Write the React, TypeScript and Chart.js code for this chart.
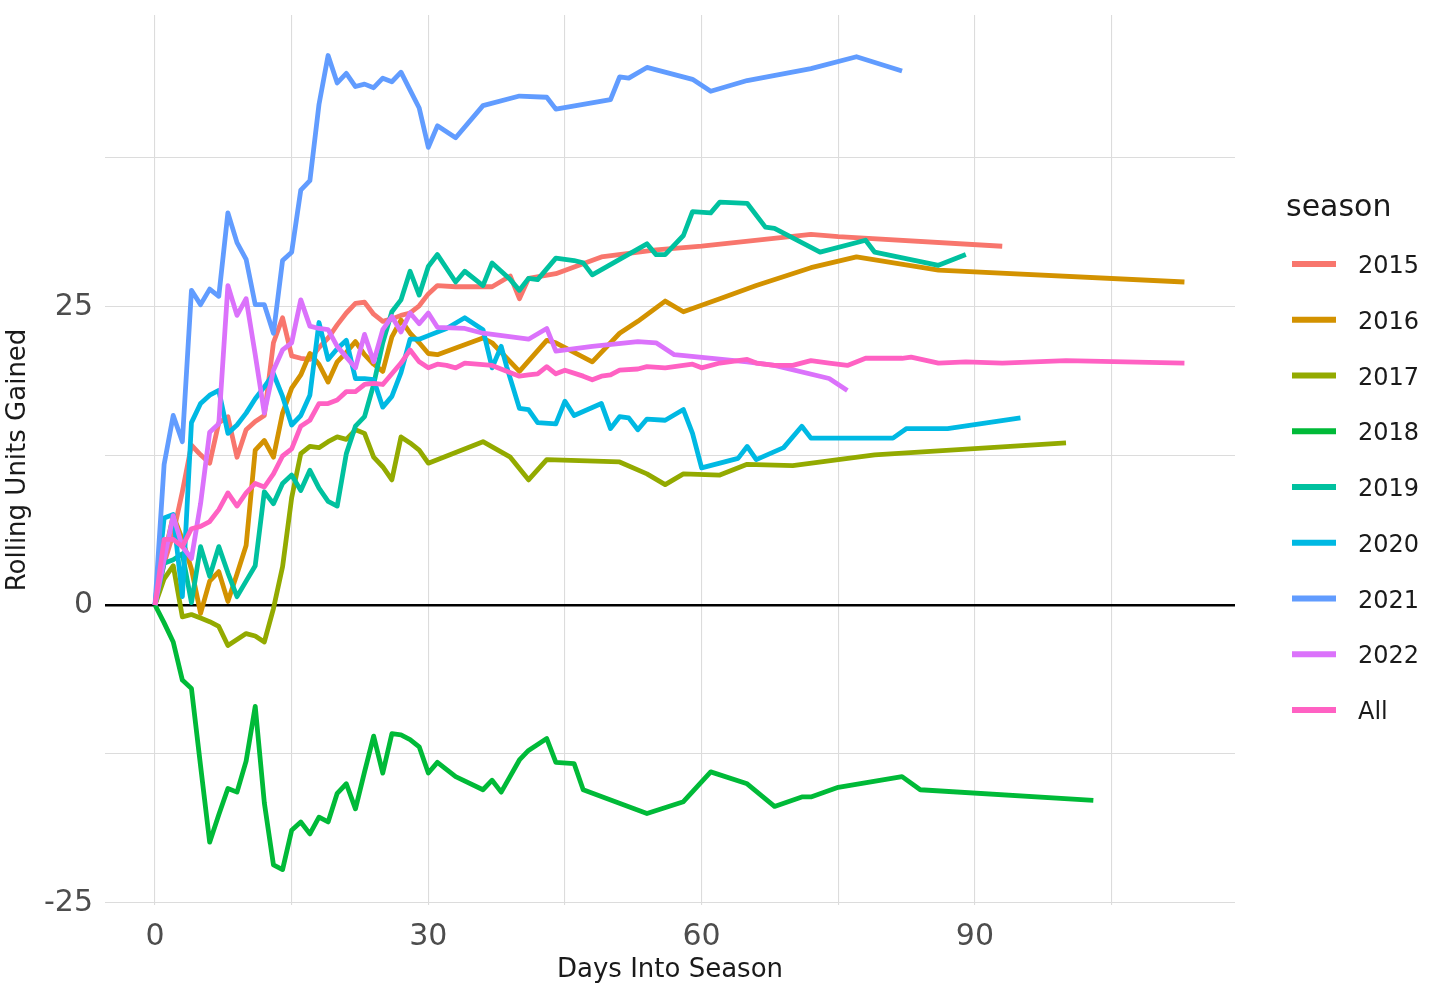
import React, { useEffect, useRef } from "react";
import { Chart, registerables } from "chart.js";

Chart.register(...registerables);

const seasonNames = ["2015", "2016", "2017", "2018", "2019", "2020", "2021", "2022", "All"];
const seasonColors = ["#F8766D", "#D39200", "#93AA00", "#00BA38", "#00C19F", "#00B9E3", "#619CFF", "#DB72FB", "#FF61C3"];

const days2015 = [0,1,2,3,4,5,6,7,8,9,10,11,12,13,14,15,16,17,18,19,20,21,22,23,24,25,26,27,28,29,30,31,33,35,37,39,40,41,44,49,55,60,72,75,93];
const units2015 = [0,3.5,6.0,9.5,13.4,12.6,11.9,15.3,15.8,12.4,14.7,15.4,15.9,22.0,24.1,20.9,20.7,20.6,21.6,22.4,23.5,24.5,25.3,25.4,24.4,23.8,24.0,24.3,24.5,25.1,26.1,26.8,26.7,26.7,26.7,27.6,25.7,27.4,27.8,29.2,29.8,30.1,31.1,30.9,30.1];

const days2016 = [0,1,2,3,4,5,6,7,8,9,10,11,12,13,14,15,16,17,18,19,20,21,22,23,24,25,26,27,28,29,30,31,36,37,40,43,44,48,51,53,56,58,62,66,72,77,86,113];
const units2016 = [0,4.0,7.5,5.5,3.0,-0.7,2.0,2.8,0.3,2.6,5.0,13.0,13.8,12.4,16.1,18.2,19.3,21.1,20.2,18.7,20.4,21.2,22.1,21.0,20.2,19.6,22.5,23.9,22.8,22.0,21.1,21.0,22.4,22.0,19.6,22.2,22.0,20.4,22.8,23.8,25.5,24.6,25.7,26.8,28.3,29.2,28.1,27.1];

const days2017 = [0,1,2,3,4,5,6,7,8,9,10,11,12,13,14,15,16,17,18,19,20,21,22,23,24,25,26,27,28,29,30,36,39,41,43,51,54,56,58,62,65,70,75,79,100];
const units2017 = [0,2.2,3.3,-1.0,-0.8,-1.1,-1.4,-1.8,-3.4,-2.9,-2.4,-2.6,-3.1,-0.3,3.2,9.0,12.7,13.3,13.2,13.7,14.1,13.9,14.7,14.4,12.4,11.6,10.5,14.1,13.6,13.0,11.9,13.7,12.4,10.5,12.2,12.0,11.0,10.1,11.0,10.9,11.8,11.7,12.2,12.6,13.6];

const days2018 = [0,1,2,3,4,5,6,7,8,9,10,11,12,13,14,15,16,17,18,19,20,21,22,23,24,25,26,27,28,29,30,31,33,36,37,38,40,41,43,44,46,47,54,58,61,65,68,71,72,75,82,84,103];
const units2018 = [0,-1.5,-3.1,-6.3,-7.0,-13.5,-19.9,-17.6,-15.4,-15.7,-13.1,-8.5,-16.6,-21.8,-22.2,-18.9,-18.2,-19.2,-17.8,-18.2,-15.8,-15.0,-17.1,-14.0,-11.0,-14.1,-10.8,-10.9,-11.3,-11.9,-14.1,-13.2,-14.4,-15.5,-14.7,-15.7,-13.0,-12.2,-11.2,-13.2,-13.3,-15.5,-17.5,-16.5,-14.0,-15.0,-16.9,-16.1,-16.1,-15.3,-14.4,-15.5,-16.4];

const days2019 = [0,1,2,3,4,5,6,7,8,9,10,11,12,13,14,15,16,17,18,19,20,21,22,23,24,25,26,27,28,29,30,31,33,34,36,37,39,40,41,42,44,46,47,48,54,55,56,58,59,61,62,65,67,68,73,78,79,86,89];
const units2019 = [0,3.5,3.8,4.3,0.2,4.9,2.4,4.9,2.7,0.7,2.0,3.3,9.5,8.5,10.2,10.9,9.6,11.3,9.8,8.7,8.3,12.7,15.0,15.8,18.5,22.0,24.6,25.6,28.0,26.0,28.4,29.4,27.1,28.0,26.8,28.7,27.3,26.4,27.4,27.3,29.1,28.9,28.7,27.7,30.3,29.4,29.4,31.0,33.0,32.9,33.8,33.7,31.7,31.6,29.6,30.6,29.6,28.5,29.4];

const days2020 = [0,1,2,3,4,5,6,7,8,9,10,11,12,13,14,15,16,17,18,19,20,21,22,23,24,25,26,27,28,29,30,32,34,36,37,38,38.6,40,41,42,44,45,46,49,50,51,52,53,54,56,58,59,60,64,65,66,69,71,72,75,81,82.5,87,95];
const units2020 = [0,7.3,7.6,0.7,15.3,16.9,17.6,18.0,14.4,15.1,16.1,17.3,18.3,19.4,17.5,15.1,15.9,17.6,23.7,20.6,21.5,22.2,19.0,19.0,18.9,16.6,17.5,19.5,22.3,22.3,22.6,23.2,24.1,23.1,19.9,21.7,20.0,16.5,16.4,15.3,15.2,17.1,15.9,16.9,14.8,15.8,15.7,14.7,15.6,15.5,16.4,14.4,11.5,12.3,13.3,12.2,13.2,15.0,14.0,14.0,14.0,14.8,14.8,15.7];

const days2021 = [0,1,2,3,4,5,6,7,8,9,10,11,12,13,14,15,16,17,18,19,20,21,22,23,24,25,26,27,28,29,30,31,33,36,40,43,44,50,51,52,54,59,61,65,72,77,82];
const units2021 = [0,11.8,15.9,13.7,26.4,25.2,26.5,25.9,32.9,30.4,29.0,25.2,25.2,22.8,28.9,29.6,34.8,35.6,42.0,46.1,43.8,44.6,43.5,43.7,43.4,44.2,43.9,44.7,43.2,41.7,38.4,40.2,39.2,41.9,42.7,42.6,41.6,42.4,44.3,44.2,45.1,44.1,43.1,44.0,45.0,46.0,44.8];

const days2022 = [0,1,2,3,4,5,6,7,8,9,10,11,12,13,14,15,16,17,18,19,20,21,22,23,24,25,26,27,28,29,30,31,34,36,41,43,44,48,53,55,57,65,68,74,76];
const units2022 = [0,3.8,7.5,4.9,3.9,8.5,14.5,15.2,26.8,24.3,25.7,21.0,16.1,19.7,21.4,22.0,25.6,23.4,23.2,23.1,21.7,20.8,19.9,22.7,20.4,23.1,24.2,22.9,24.5,23.6,24.5,23.3,23.2,22.8,22.3,23.2,21.3,21.7,22.1,22.0,21.0,20.4,20.1,19.0,18.0];

const daysAll = [0,1,2,3,4,5,6,7,8,9,10,11,12,13,14,15,16,17,18,19,20,21,22,23,24,25,26,27,28,29,30,31,32,33,34,37,40,41,42,43,44,45,47,48,49,50,51,53,54,56,58,59,60,62,65,66,68,70,72,74,76,78,82,83,86,89,93,100,113];
const unitsAll = [0,5.5,5.5,4.9,6.4,6.6,7.0,8.0,9.4,8.3,9.4,10.2,9.9,11.0,12.5,13.1,15.0,15.5,16.9,16.9,17.2,17.9,17.9,18.5,18.6,18.5,19.4,20.3,21.4,20.4,19.9,20.2,20.1,19.9,20.3,20.1,19.2,19.3,19.4,20.0,19.4,19.7,19.2,18.9,19.2,19.3,19.7,19.8,20.0,19.9,20.1,20.2,19.9,20.3,20.6,20.3,20.1,20.1,20.5,20.3,20.1,20.7,20.7,20.8,20.3,20.4,20.3,20.5,20.3];

const seasonDays = [days2015, days2016, days2017, days2018, days2019, days2020, days2021, days2022, daysAll];
const seasonUnits = [units2015, units2016, units2017, units2018, units2019, units2020, units2021, units2022, unitsAll];

const xTickLabels = [0, 30, 60, 90];
const yTickLabels = [-25, 0, 25];

const FONT = '"DejaVu Sans", sans-serif';

const legendPlugin = {
  id: "seasonLegend",
  afterDraw(chart: any) {
    const ctx = chart.ctx;
    ctx.save();
    ctx.fillStyle = "#1a1a1a";
    ctx.textAlign = "left";
    ctx.textBaseline = "alphabetic";
    ctx.font = `30px ${FONT}`;
    ctx.fillText("season", 1286, 216);
    chart.data.datasets.forEach((ds: any, i: number) => {
      const y = 264 + i * 55.75;
      ctx.strokeStyle = ds.borderColor;
      ctx.lineWidth = 6;
      ctx.lineCap = "butt";
      ctx.beginPath();
      ctx.moveTo(1292, y);
      ctx.lineTo(1336, y);
      ctx.stroke();
      ctx.font = `24px ${FONT}`;
      ctx.fillStyle = "#1a1a1a";
      ctx.fillText(ds.label, 1358, y + 9);
    });
    ctx.restore();
  },
};

export default function App() {
  const canvasRef = useRef<HTMLCanvasElement>(null);

  useEffect(() => {
    if (!canvasRef.current) return;
    const n = seasonNames.length;
    const datasets = seasonNames.map((name, i) => ({
      label: name,
      data: seasonDays[i].map((d, j) => ({ x: d, y: seasonUnits[i][j] })),
      borderColor: seasonColors[i],
      backgroundColor: seasonColors[i],
      borderWidth: 4.8,
      pointRadius: 0,
      pointHoverRadius: 0,
      tension: 0,
      fill: false,
      borderJoinStyle: "round" as const,
      borderCapStyle: "butt" as const,
      order: n - i,
    }));

    const chart = new Chart(canvasRef.current, {
      type: "line",
      data: { datasets },
      plugins: [legendPlugin],
      options: {
        animation: false,
        responsive: false,
        maintainAspectRatio: false,
        devicePixelRatio: 1,
        layout: { padding: { left: 0, right: 221, top: 15, bottom: 0 } },
        plugins: {
          legend: { display: false },
          tooltip: { enabled: false },
        },
        scales: {
          x: {
            type: "linear",
            min: -5.49,
            max: 118.55,
            border: { display: false },
            grid: {
              color: "#DCDCDC",
              lineWidth: 1.1,
              drawTicks: false,
            },
            ticks: {
              stepSize: 15,
              includeBounds: false,
              autoSkip: false,
              maxRotation: 0,
              padding: 14,
              color: "#4D4D4D",
              font: { family: FONT, size: 30 },
              callback: (v: any) => (xTickLabels.includes(Number(v)) ? String(v) : ""),
            },
            title: {
              display: true,
              text: "Days Into Season",
              color: "#1a1a1a",
              font: { family: FONT, size: 26 },
              padding: { top: 0, bottom: 4 },
            },
            afterFit: (scale: any) => {
              scale.height = 85;
              scale.paddingLeft = 0;
              scale.paddingRight = 0;
            },
          },
          y: {
            type: "linear",
            min: -25.17,
            max: 49.5,
            border: { display: false },
            grid: {
              color: (c: any) => (c.tick && c.tick.value === 0 ? "#000000" : "#DCDCDC"),
              lineWidth: (c: any) => (c.tick && c.tick.value === 0 ? 2.6 : 1.1),
              drawTicks: false,
            },
            ticks: {
              stepSize: 12.5,
              includeBounds: false,
              autoSkip: false,
              padding: 12,
              color: "#4D4D4D",
              font: { family: FONT, size: 30 },
              callback: (v: any) => (yTickLabels.includes(Number(v)) ? String(v) : ""),
            },
            title: {
              display: true,
              text: "Rolling Units Gained",
              color: "#1a1a1a",
              font: { family: FONT, size: 26 },
              padding: { top: 3, bottom: 0 },
            },
            afterFit: (scale: any) => {
              scale.width = 105;
              scale.paddingTop = 0;
              scale.paddingBottom = 0;
            },
          },
        },
      },
    });
    return () => chart.destroy();
  }, []);

  return (
    <div style={{ position: "absolute", left: 0, top: 0, width: 1456, height: 990, background: "#fff" }}>
      <canvas ref={canvasRef} width={1456} height={990} style={{ width: 1456, height: 990, display: "block" }} />
    </div>
  );
}
